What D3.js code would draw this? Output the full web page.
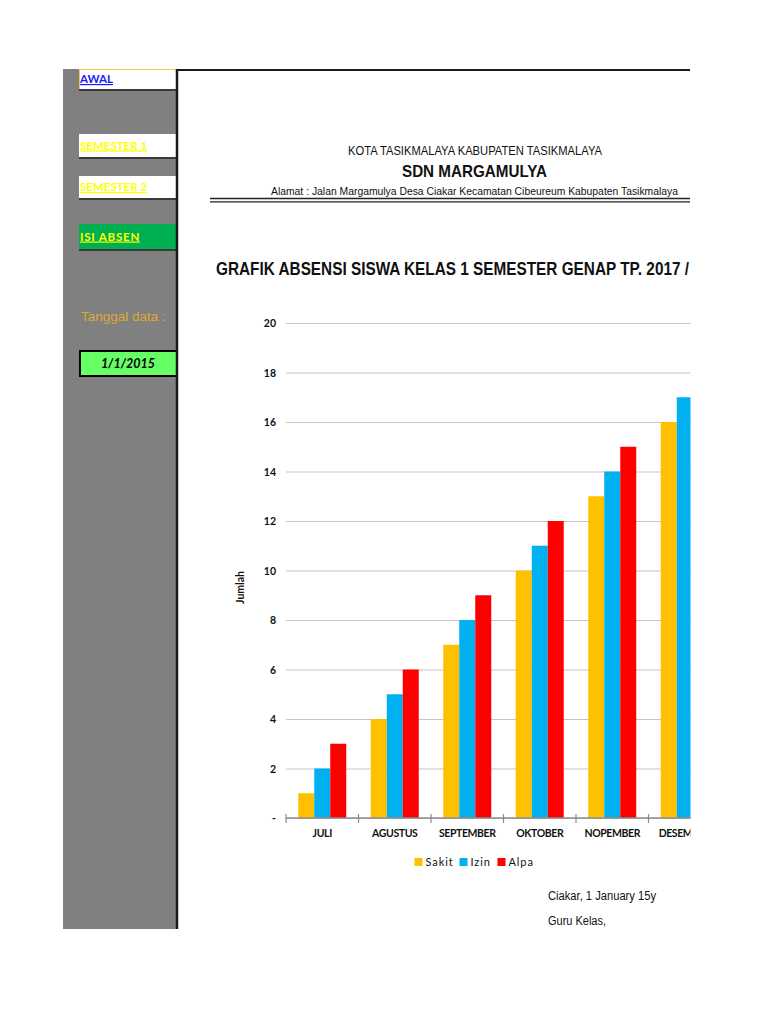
<!DOCTYPE html>
<html>
<head>
<meta charset="utf-8">
<script src="https://cdn.jsdelivr.net/npm/d3@7"></script>
<style>
  body { margin: 0; background: #fff; }
  svg { display: block; }
</style>
</head>
<body>
<svg id="page-svg" width="768" height="1024"></svg>
<script>
// chart data
const months = ['JULI', 'AGUSTUS', 'SEPTEMBER', 'OKTOBER', 'NOPEMBER', 'DESEMBER'];
const seriesNames = ['Sakit', 'Izin', 'Alpa'];
const sakit = [1, 4, 7, 10, 13, 16];
const izin = [2, 5, 8, 11, 14, 17];
const alpa = [3, 6, 9, 12, 15, 18];
const yTicks = [0, 2, 4, 6, 8, 10, 12, 14, 16, 18, 20];
const colors = ['#ffc000', '#00b0f0', '#ff0000'];

const narrow = "'Liberation Sans Narrow', 'Liberation Sans', Arial, sans-serif";
const calibri = "Lato, 'Open Sans', sans-serif";

const svg = d3.select('#page-svg');

// left navigation panel
svg.append('rect')
    .attr('x', 63).attr('y', 69)
    .attr('width', 114).attr('height', 860)
    .attr('fill', '#808080');

const buttons = [
    { label: 'AWAL', y: 69, h: 20, fill: '#ffffff', color: '#1a1aff', ls: 0 },
    { label: 'SEMESTER 1', y: 134, h: 23, fill: '#ffffff', color: '#ffff00', ls: 0 },
    { label: 'SEMESTER 2', y: 176, h: 22, fill: '#ffffff', color: '#ffff00', ls: 0 },
    { label: 'ISI ABSEN', y: 224, h: 25, fill: '#00b050', color: '#ffff00', ls: 0.8 }
];

buttons.forEach(b => {
    svg.append('rect')
        .attr('x', 79).attr('y', b.y + b.h)
        .attr('width', 98).attr('height', 2)
        .attr('fill', '#3a3a3a');
    svg.append('rect')
        .attr('x', 79).attr('y', b.y)
        .attr('width', 98).attr('height', b.h)
        .attr('fill', b.fill);
    svg.append('text')
        .attr('x', 80)
        .attr('y', b.y + b.h / 2 + 4)
        .attr('fill', b.color)
        .style('font-family', calibri)
        .style('font-weight', 'bold')
        .style('font-size', '11.5px')
        .style('letter-spacing', b.ls + 'px')
        .style('text-decoration', 'underline')
        .text(b.label);
});
// yellow border on AWAL
svg.append('path')
    .attr('d', 'M79.5,89 V69.5 H177')
    .attr('fill', 'none')
    .attr('stroke', '#f5c84a')
    .attr('stroke-width', 1);

svg.append('text')
    .attr('x', 81).attr('y', 321)
    .attr('fill', '#dcaa30')
    .style('font-family', "'Liberation Sans', Arial, sans-serif")
    .style('font-size', '13.5px')
    .text('Tanggal data :');

svg.append('rect')
    .attr('x', 80).attr('y', 351)
    .attr('width', 97).attr('height', 25)
    .attr('fill', '#66ff66')
    .attr('stroke', '#000')
    .attr('stroke-width', 2);
svg.append('text')
    .attr('x', 128).attr('y', 368)
    .attr('text-anchor', 'middle')
    .style('font-family', calibri)
    .style('font-weight', 'bold')
    .style('font-style', 'italic')
    .style('font-size', '12.5px')
    .text('1/1/2015');

// page frame lines
svg.append('line')
    .attr('x1', 177).attr('x2', 177).attr('y1', 69).attr('y2', 929)
    .attr('stroke', '#1a1a1a').attr('stroke-width', 2.5);
svg.append('line')
    .attr('x1', 176).attr('x2', 690).attr('y1', 70).attr('y2', 70)
    .attr('stroke', '#1a1a1a').attr('stroke-width', 2);

// clip for the right side, the sheet is cut at x=690
svg.append('defs').append('clipPath')
    .attr('id', 'right-clip')
    .append('rect')
    .attr('x', 178).attr('y', 0)
    .attr('width', 512.5).attr('height', 1024);

// header and footer texts
const header = [
    { text: 'KOTA TASIKMALAYA KABUPATEN TASIKMALAYA', x: 348, y: 155, w: 254, size: 12, weight: 'normal' },
    { text: 'SDN MARGAMULYA', x: 402, y: 176.5, w: 145, size: 17, weight: 'bold' },
    { text: 'Alamat :  Jalan Margamulya Desa Ciakar Kecamatan Cibeureum Kabupaten Tasikmalaya', x: 271, y: 195, w: 407, size: 11.5, weight: 'normal' },
    { text: 'GRAFIK ABSENSI SISWA KELAS 1 SEMESTER GENAP TP. 2017 /', x: 216, y: 274.5, w: 473, size: 18.5, weight: 'bold' },
    { text: 'Ciakar, 1 January 15y', x: 548, y: 900, w: 108, size: 12, weight: 'normal' },
    { text: 'Guru Kelas,', x: 548, y: 925, w: 58, size: 12, weight: 'normal' }
];

header.forEach(h => {
    svg.append('text')
        .attr('x', h.x).attr('y', h.y)
        .attr('textLength', h.w)
        .attr('lengthAdjust', 'spacingAndGlyphs')
        .attr('fill', '#111')
        .style('font-family', narrow)
        .style('font-size', h.size + 'px')
        .style('font-weight', h.weight)
        .text(h.text);
});

[198.5, 201.8].forEach(yy => {
    svg.append('line')
        .attr('x1', 210).attr('x2', 690).attr('y1', yy).attr('y2', yy)
        .attr('stroke', '#222').attr('stroke-width', 1.3);
});

// chart
const margin = { top: 323, bottom: 206, left: 286, right: 0 };
const innerHeight = 1024 - margin.top - margin.bottom;
const bandStep = 72.5;

const xScale = d3.scaleBand()
    .domain(months)
    .range([0, bandStep * months.length])
    .padding(0);

const xSub = d3.scaleBand()
    .domain(seriesNames)
    .range([0, xScale.bandwidth()])
    .paddingInner(0)
    .paddingOuter(0.766);

const yScale = d3.scaleLinear()
    .domain([0, 20])
    .range([innerHeight, 0]);

// unclipped layer for labels, clipped layer for grid, bars and x axis
const g = svg.append('g')
    .attr('transform', `translate(${margin.left}, ${margin.top})`);
const plot = svg.append('g')
    .attr('clip-path', 'url(#right-clip)')
    .append('g')
    .attr('transform', `translate(${margin.left}, ${margin.top})`);

const grid = d3.axisLeft(yScale)
    .tickValues(yTicks)
    .tickSize(-xScale.range()[1])
    .tickFormat('');

const gridG = plot.append('g').call(grid);
gridG.select('.domain').remove();
gridG.selectAll('.tick line')
    .attr('stroke', '#c6c6c6')
    .attr('stroke-width', 1.2);

// y labels as plain text, right aligned
g.selectAll('.ylabel').data(yTicks)
    .enter().append('text')
    .attr('class', 'ylabel')
    .attr('x', -10)
    .attr('y', d => yScale(d) + 4)
    .attr('text-anchor', 'end')
    .attr('fill', '#111')
    .style('font-family', calibri)
    .style('font-weight', 'bold')
    .style('font-size', '10.5px')
    .text(d => d === 0 ? '-' : d);

const rows = months.map((m, i) => ({ month: m, values: [sakit[i], izin[i], alpa[i]] }));

plot.selectAll('.group').data(rows)
    .enter().append('g')
    .attr('class', 'group')
    .attr('transform', d => `translate(${xScale(d.month)}, 0)`)
    .selectAll('rect')
    .data(d => d.values.map((v, k) => ({ key: seriesNames[k], value: v, color: colors[k] })))
    .enter().append('rect')
    .attr('x', d => xSub(d.key))
    .attr('width', xSub.bandwidth())
    .attr('y', d => yScale(d.value))
    .attr('height', d => innerHeight - yScale(d.value))
    .attr('fill', d => d.color);

// x axis with ticks on band boundaries
const xAxisG = plot.append('g')
    .attr('transform', `translate(0, ${innerHeight})`);

xAxisG.append('line')
    .attr('x1', 0).attr('x2', xScale.range()[1])
    .attr('stroke', '#8c8c8c').attr('stroke-width', 1.3);

const boundaries = months.map(m => xScale(m)).concat([xScale.range()[1]]);
xAxisG.selectAll('.btick').data(boundaries)
    .enter().append('line')
    .attr('class', 'btick')
    .attr('x1', d => d).attr('x2', d => d)
    .attr('y1', -4).attr('y2', 5)
    .attr('stroke', '#8c8c8c').attr('stroke-width', 1.2);

xAxisG.selectAll('.xlabel').data(months)
    .enter().append('text')
    .attr('class', 'xlabel')
    .attr('x', d => xScale(d) + xScale.bandwidth() / 2)
    .attr('y', 19)
    .attr('text-anchor', 'middle')
    .attr('fill', '#111')
    .style('font-family', calibri)
    .style('font-weight', 'bold')
    .style('font-size', '10.5px')
    .style('letter-spacing', '-0.4px')
    .text(d => d);

g.append('text')
    .attr('transform', `translate(-42, ${innerHeight / 2 + 17}) rotate(-90)`)
    .attr('text-anchor', 'middle')
    .attr('fill', '#111')
    .style('font-family', calibri)
    .style('font-weight', 'bold')
    .style('font-size', '10.5px')
    .text('Jumlah');

// legend
const legendX = [414.5, 459.5, 497.5];
const legend = svg.append('g');
seriesNames.forEach((s, k) => {
    legend.append('rect')
        .attr('x', legendX[k]).attr('y', 858)
        .attr('width', 8).attr('height', 8)
        .attr('fill', colors[k]);
    legend.append('text')
        .attr('x', legendX[k] + 11).attr('y', 865.5)
        .attr('fill', '#111')
        .style('font-family', calibri)
        .style('font-size', '11px')
        .style('letter-spacing', '0.9px')
        .text(s);
});
</script>
</body>
</html>
